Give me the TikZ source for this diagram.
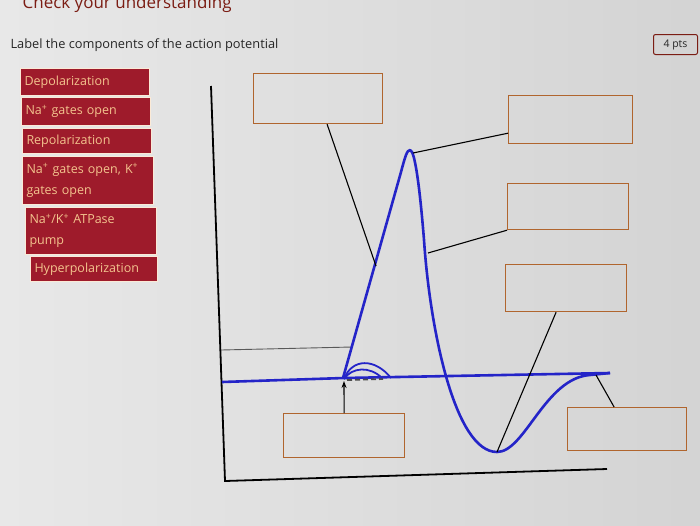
\documentclass[tikz,border=0pt]{standalone}
\usepackage{fontspec}
\setmainfont{Open Sans}
\usetikzlibrary{%
  arrows.meta%
}
\definecolor{termred}{HTML}{9E1B2B}
\definecolor{termtext}{HTML}{F3C48E}
\definecolor{boxline}{HTML}{B0652E}
\definecolor{trace}{HTML}{2424C8}
\definecolor{titlered}{HTML}{7B1D14}

\begin{document}
\begin{tikzpicture}
[x=1pt, y=-1pt, line width=1.2pt, >={Stealth[length=7pt, width=5pt]},
term/.style={rectangle, anchor=north west, fill=termred, draw=termtext!35!white, line width=1pt, text=termtext, inner xsep=4pt, inner ysep=0pt, align=left, font=\fontsize{12.5}{21}\selectfont},
blank/.style={rectangle, anchor=north west, draw=boxline, line width=1.2pt, inner sep=0pt},
leader/.style={draw=black, line width=1.1pt},
spike/.style={draw=trace, line width=2.6pt, line join=round}]

\clip (0,0) rectangle (700,525);
\shade[left color=black!9!white, right color=black!17!white] (0,0) rectangle (700,525);

% heading
\node[anchor=base west, inner sep=0pt, text=titlered, font=\fontsize{17}{20}\selectfont] (title) at (22,8) {Check your understanding};
\node[anchor=base west, inner sep=0pt, text=black!85, font=\fontsize{12.8}{15}\selectfont] (prompt) at (10,48) {Label the components of the action potential};
\node[anchor=north west, rounded corners=2pt, draw=titlered, line width=1pt, minimum width=44pt, minimum height=20pt, text=black!85, font=\fontsize{10.5}{12}\selectfont] (points) at (653,34) {4 pts};

% word bank
\node[term, text width=121pt, minimum height=27pt] (term1) at (20,68) {Depolarization};
\node[term, text width=121pt, minimum height=28pt] (term2) at (21,97) {Na\textsuperscript{+} gates open};
\node[term, text width=121pt, minimum height=25pt] (term3) at (22,128) {Repolarization};
\node[term, text width=123pt, minimum height=48pt] (term4) at (22,156) {Na\textsuperscript{+} gates open, K\textsuperscript{+}\\gates open};
\node[term, text width=123pt, minimum height=47pt] (term5) at (25,207) {Na\textsuperscript{+}/K\textsuperscript{+} ATPase\\pump};
\node[term, text width=119pt, minimum height=25pt] (term6) at (30,256) {Hyperpolarization};

% axes and threshold
\draw[line width=1.8pt] (211,86) -- (225,481) -- (607,469);
\draw[line width=0.9pt, black!65] (221,350) -- (352,347);

% membrane potential
\draw[spike] (222,382) -- (344,378) -- (610,373);
\draw[dashed, dash pattern=on 5pt off 3pt, line width=1.8pt, black!70] (347,380) -- (383,379);
\draw[draw=trace, line width=1.8pt] (344,379) .. controls (352,358) and (375,358) .. (391,378);
\draw[draw=trace, line width=1.8pt] (344,379) .. controls (352,367) and (370,366) .. (382,378);
\draw[spike] (343,378) -- (401,172) .. controls (405,157) and (407,150) .. (410,150)
  .. controls (415,150) and (420,190) .. (424,240)
  .. controls (430,330) and (455,452) .. (497,452)
  .. controls (525,452) and (545,378) .. (590,375) -- (610,373);

\coordinate (onset) at (344,381);
\coordinate (rise) at (376,266);
\coordinate (peak) at (413,153);
\coordinate (fall) at (428,253);
\coordinate (trough) at (497,452);
\coordinate (rest) at (596,375);

% answer boxes
\node[blank, minimum width=129pt, minimum height=50pt] (boxA) at (253,73) {};
\node[blank, minimum width=124pt, minimum height=48pt] (boxB) at (508,95) {};
\node[blank, minimum width=121pt, minimum height=46pt] (boxC) at (507,183) {};
\node[blank, minimum width=121pt, minimum height=47pt] (boxD) at (505,264) {};
\node[blank, minimum width=121pt, minimum height=44pt] (boxE) at (283,413) {};
\node[blank, minimum width=119pt, minimum height=43pt] (boxF) at (567,407) {};

\path ([xshift=9pt]boxA.south) edge[leader] (rise);
\path ([yshift=11pt]boxB.south west) edge[leader] (peak);
\path (boxC.south west) edge[leader] (fall);
\path ([xshift=-10pt]boxD.south) edge[leader] (trough);
\path (boxE.north) edge[leader, ->] (onset);
\path ([xshift=-13pt]boxF.north) edge[leader] (rest);
\end{tikzpicture}
\end{document}
